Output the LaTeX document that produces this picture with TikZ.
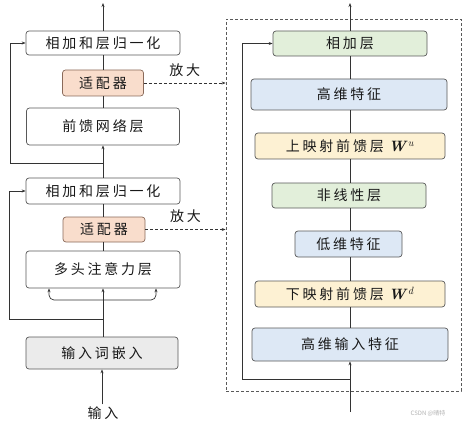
\documentclass[tikz,border=0pt]{standalone}
\usepackage{fontspec}
\usetikzlibrary{arrows.meta}
\newfontfamily\cjk[LetterSpace=20]{Noto Sans CJK SC}
\newfontfamily\cjkplain{Noto Sans CJK SC}
\newcommand\mtx[2]{\hspace{2pt}{\rmfamily\fontsize{15}{15}\selectfont\textbf{\textit{#1}}\textsuperscript{\textit{#2}}}}
\definecolor{adaptfill}{HTML}{F9DDCC}
\definecolor{adaptline}{HTML}{8A6A5A}
\definecolor{embfill}{HTML}{EBEBEB}
\definecolor{grnfill}{HTML}{E2EFDA}
\definecolor{blufill}{HTML}{DDE8F5}
\definecolor{ylwfill}{HTML}{FDF1D3}
\tikzset{
	blk/.style={draw=black!65,rounded corners=3pt,inner sep=0pt,line width=0.7pt,
		text=black!90,font=\cjk\fontsize{14}{14}\selectfont},
	adapt/.style={blk,fill=adaptfill,draw=adaptline},
	lnk/.style={line width=0.7pt,black!80},
	zoomline/.style={lnk,dash pattern=on 3pt off 2pt}
}
\begin{document}
\begin{tikzpicture}[x=1pt,y=-1pt,>={Stealth[length=4pt,width=3pt]}]
		\useasboundingbox (0,0) rectangle (474,425);
		% left column
		\node[blk,fill=white,minimum width=154pt,minimum height=24pt] (addnormA) at (103,43) {相加和层归一化};
		\node[adapt,minimum width=81pt,minimum height=26pt] (adapterA) at (103,83) {适配器};
		\node[blk,fill=white,minimum width=153pt,minimum height=37pt] (ffn) at (103,126.5) {前馈网络层};
		\node[blk,fill=white,minimum width=154pt,minimum height=26pt] (addnormB) at (103,191) {相加和层归一化};
		\node[adapt,minimum width=82pt,minimum height=25pt] (adapterB) at (104,229.5) {适配器};
		\node[blk,fill=white,minimum width=154pt,minimum height=37pt] (mha) at (103,269.5) {多头注意力层};
		\node[blk,fill=embfill,minimum width=152pt,minimum height=32pt] (embed) at (102,353) {输入词嵌入};
		\node[text=black!90,font=\cjk\fontsize{14}{14}\selectfont,inner sep=2pt] (inp) at (103,413) {输入};
		\coordinate (outL) at (103,3);
		\coordinate (jA) at (103,163);
		\coordinate (jB) at (103,319);
		\coordinate (br) at (103,300);
		\draw[lnk,->] (addnormA.north) -- (outL);
		\draw[lnk] (adapterA.north -| addnormA.south) -- (addnormA.south);
		\draw[lnk] (ffn.north) -- (ffn.north |- adapterA.south);
		\draw[lnk,->] (addnormB.north) -- (ffn.south);
		\draw[lnk,->] (jA) -- ++(-93,0) |- (addnormA.west);
		\draw[lnk] (addnormB.south) -- (addnormB.south |- adapterB.north);
		\draw[lnk] (mha.north) -- (mha.north |- adapterB.south);
		\draw[lnk,->] (embed.north -| mha.south) -- (mha.south);
		\draw[lnk,->,rounded corners=5pt] (br) -| ([xshift=-54pt]mha.south);
		\draw[lnk,->,rounded corners=5pt] (br) -| ([xshift=53pt]mha.south);
		\draw[lnk,->] (jB) -- ++(-94,0) |- (addnormB.west);
		\draw[lnk,->] (inp.north -| embed.south) -- (embed.south);
		% zoomed adapter
		\node[draw=black!65,dash pattern=on 3pt off 2pt,line width=0.7pt,minimum width=235pt,minimum height=372pt,inner sep=0pt] (frame) at (343.5,205) {};
		\draw[zoomline,->] (adapterA.east) -- (adapterA.east -| frame.west)
			node[midway,above=3pt,text=black!90,font=\cjk\fontsize{14}{14}\selectfont]{放大};
		\draw[zoomline,->] (adapterB.east) -- (adapterB.east -| frame.west)
			node[midway,above=3pt,text=black!90,font=\cjk\fontsize{14}{14}\selectfont]{放大};
		% right column
		\node[blk,fill=grnfill,minimum width=154pt,minimum height=25pt] (add) at (350,43.5) {相加层};
		\node[blk,fill=blufill,minimum width=196pt,minimum height=31pt] (high) at (349,94.5) {高维特征};
		\node[blk,fill=ylwfill,minimum width=190pt,minimum height=26pt] (up) at (350,146) {上映射前馈层\mtx{W}{u}};
		\node[blk,fill=grnfill,minimum width=154pt,minimum height=25pt] (nonlin) at (349,195.5) {非线性层};
		\node[blk,fill=blufill,minimum width=107pt,minimum height=26pt] (low) at (348.5,244) {低维特征};
		\node[blk,fill=ylwfill,minimum width=190pt,minimum height=26pt] (down) at (350,294) {下映射前馈层\mtx{W}{d}};
		\node[blk,fill=blufill,minimum width=196pt,minimum height=33pt] (highin) at (350,344.5) {高维输入特征};
		\coordinate (outR) at (350,3);
		\coordinate (inR) at (350,412);
		\coordinate (jR) at (350,379);
		\draw[lnk,->] (add.north) -- (outR);
		\draw[lnk] (add.south) -- (add.south |- high.north);
		\draw[lnk] (add.south |- high.south) -- (add.south |- up.north);
		\draw[lnk] (add.south |- up.south) -- (add.south |- nonlin.north);
		\draw[lnk] (add.south |- nonlin.south) -- (add.south |- low.north);
		\draw[lnk] (add.south |- low.south) -- (add.south |- down.north);
		\draw[lnk] (add.south |- down.south) -- (highin.north);
		\draw[lnk,->] (inR) -- (highin.south);
		\draw[lnk,->] (jR) -- ++(-108,0) |- (add.west);
		\node[text=black!30,font=\cjkplain\fontsize{6}{6}\selectfont] (mark) at (428,413) {CSDN @晴特};
\end{tikzpicture}
\end{document}
